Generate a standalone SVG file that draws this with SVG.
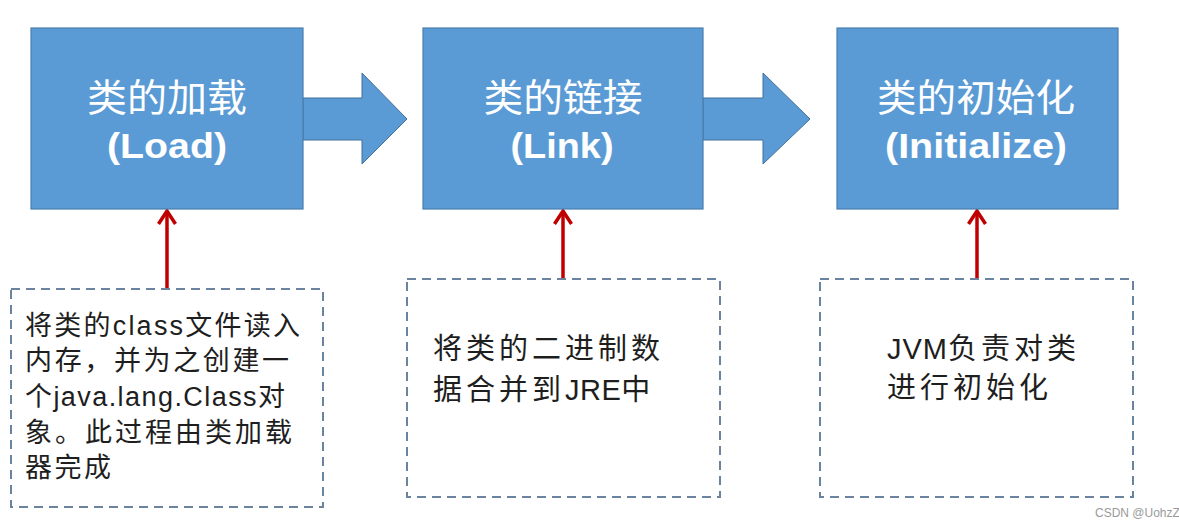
<svg xmlns="http://www.w3.org/2000/svg" width="1179" height="527" viewBox="0 0 1179 527">
<style>
.box{fill:#5B9BD5;stroke:#4A7EB0;stroke-width:1.2}
.flow{fill:#5B9BD5;stroke:#41719C;stroke-width:1}
.ttl{font-family:"Liberation Sans","Noto Sans CJK SC",sans-serif;fill:#ffffff;text-anchor:middle}
.cjk{font-size:38px}
.lat{font-size:35px;font-weight:bold}
.note{fill:#ffffff;stroke:#6A84A0;stroke-width:2;stroke-dasharray:9 6}
.txt{font-family:"Liberation Sans","Noto Sans CJK SC",sans-serif;font-size:27px;fill:#1e1e1e}
.txt2{font-family:"Liberation Sans","Noto Sans CJK SC",sans-serif;font-size:29px;letter-spacing:4px;fill:#1e1e1e}
.red{stroke:#C00000;stroke-width:3.5;fill:none}
.wm{font-family:"Liberation Sans",Arial,sans-serif;font-size:12px;fill:#9a9a9a}
</style>
<defs>
<marker id="head" viewBox="0 0 20 20" refX="17" refY="10" markerWidth="20" markerHeight="20" markerUnits="userSpaceOnUse" orient="auto">
<path d="M4,1.5 L17,10 L4,18.5" fill="none" stroke="#C00000" stroke-width="3.5"/>
</marker>
</defs>
<rect width="1179" height="527" fill="#ffffff"/>
<g id="connectors">
<polygon class="flow" points="303,98 362,98 362,73 407,119 362,164 362,140 303,140"/>
<polygon class="flow" points="703,98 763,98 763,73 810,119 763,164 763,140 703,140"/>
<line class="red" x1="167" y1="289" x2="167" y2="211" marker-end="url(#head)"/>
<line class="red" x1="563" y1="279" x2="563" y2="211" marker-end="url(#head)"/>
<line class="red" x1="977" y1="279" x2="977" y2="211" marker-end="url(#head)"/>
</g>
<g id="node-load">
<rect class="box" x="31" y="28" width="272" height="181"/>
<text class="ttl cjk" x="167" y="111" textLength="160" lengthAdjust="spacingAndGlyphs">类的加载</text>
<text class="ttl lat" x="167" y="158" textLength="120" lengthAdjust="spacingAndGlyphs">(Load)</text>
</g>
<g id="node-link">
<rect class="box" x="423" y="28" width="280" height="181"/>
<text class="ttl cjk" x="563" y="111" textLength="159" lengthAdjust="spacingAndGlyphs">类的链接</text>
<text class="ttl lat" x="562" y="158" textLength="103" lengthAdjust="spacingAndGlyphs">(Link)</text>
</g>
<g id="node-init">
<rect class="box" x="837" y="28" width="281" height="181"/>
<text class="ttl cjk" x="976" y="111" textLength="198" lengthAdjust="spacingAndGlyphs">类的初始化</text>
<text class="ttl lat" x="976" y="158" textLength="182" lengthAdjust="spacingAndGlyphs">(Initialize)</text>
</g>
<g id="note-load">
<rect class="note" x="11" y="289" width="312" height="218"/>
<text class="txt" x="25" y="335" textLength="275" lengthAdjust="spacing">将类的class文件读入</text>
<text class="txt" x="25" y="370" textLength="264" lengthAdjust="spacing">内存，并为之创建一</text>
<text class="txt" x="25" y="406" textLength="260" lengthAdjust="spacing">个java.lang.Class对</text>
<text class="txt" x="25" y="442" textLength="267" lengthAdjust="spacing">象。此过程由类加载</text>
<text class="txt" x="25" y="477" textLength="86" lengthAdjust="spacing">器完成</text>
</g>
<g id="note-link">
<rect class="note" x="407" y="279" width="313" height="218"/>
<text class="txt2" x="433" y="359">将类的二进制数</text>
<text class="txt2" x="433" y="400">据合并到<tspan letter-spacing="0.5">JRE</tspan>中</text>
</g>
<g id="note-init">
<rect class="note" x="820" y="279" width="313" height="218"/>
<text class="txt2" x="887" y="359"><tspan letter-spacing="1">JVM</tspan>负责对类</text>
<text class="txt2" x="887" y="398">进行初始化</text>
</g>
<text class="wm" x="1095" y="517">CSDN @UohzZ</text>
</svg>
